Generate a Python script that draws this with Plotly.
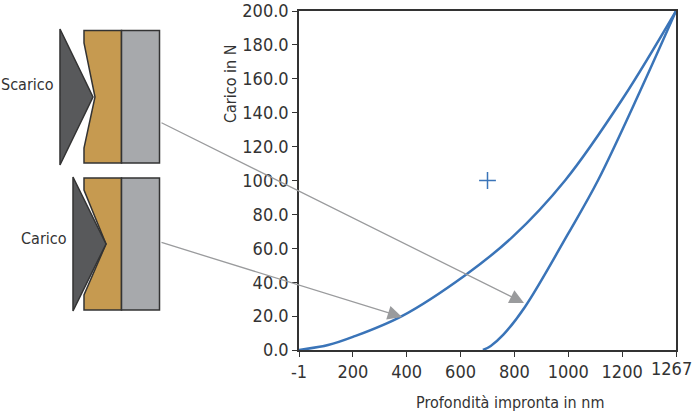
import plotly.graph_objects as go

# curve values (x is the position on the axis, the 1400 slot is labelled 1267)
load_x = [0, 108, 200, 382, 616, 795, 988, 1203, 1400]
load_y = [0, 2.9, 7.7, 20, 44, 67, 100, 148.5, 200]
unload_x = [683, 712, 758, 839, 999, 1110, 1266, 1400]
unload_y = [0, 2.4, 8.9, 25.4, 68.5, 100, 152.5, 200]
marker_x = [700]
marker_y = [100]

x_ticks = [0, 200, 400, 600, 800, 1000, 1200, 1400]
x_labels = ["-1", "200", "400", "600", "800", "1000", "1200", ""]  # last one is placed by hand, see below
y_ticks = [0, 20, 40, 60, 80, 100, 120, 140, 160, 180, 200]
y_labels = [f"{v:.1f}" for v in y_ticks]

BLUE = "#3a74b8"
DARK = "#333333"
FONT = "DejaVu Sans Condensed, Liberation Sans"
W, H = 696, 413
L, R, T, B = 299, 676, 11, 350


def px(x):
    return (x - L) / (R - L)


def py(y):
    return (B - y) / (B - T)


def poly(points, fill, line=DARK, width=1.5):
    path = "M " + " L ".join(f"{px(x):.4f},{py(y):.4f}" for x, y in points) + " Z"
    return dict(type="path", path=path, xref="paper", yref="paper", fillcolor=fill,
                line=dict(color=line, width=width), layer="above")


ORANGE = "#c69a50"
GREY = "#a7a9ac"
TIP = "#58595b"
shapes = [
    poly([(60, 29), (93, 97), (60, 165)], TIP),
    poly([(84, 30.5), (121.5, 30.5), (121.5, 163), (84, 163), (84, 148), (95, 97), (84, 43)], ORANGE),
    poly([(121.5, 30.5), (159.5, 30.5), (159.5, 163), (121.5, 163)], GREY),
    poly([(84, 178), (121.5, 178), (121.5, 310), (84, 310), (84, 295), (106, 244), (84, 190)], ORANGE),
    poly([(121.5, 178), (159.5, 178), (159.5, 310), (121.5, 310)], GREY),
    poly([(73, 177), (106, 244), (73, 311)], TIP),
]


def arrow(x0, y0, x1, y1):
    return dict(x=px(x1), y=py(y1), xref="paper", yref="paper", ax=x0 - x1, ay=y0 - y1,
                axref="pixel", ayref="pixel", text="", showarrow=True, arrowhead=2, arrowsize=2.2,
                arrowwidth=1.3, arrowcolor="#9a9b9d")


def label(x, y, text, size=16, anchor="center", angle=0):
    return dict(x=px(x), y=py(y), xref="paper", yref="paper", text=text, showarrow=False,
                xanchor=anchor, yanchor="middle", textangle=angle,
                font=dict(family=FONT, size=size, color=DARK))


annotations = [
    arrow(160, 122, 524, 303),
    arrow(160, 242, 402, 317),
    label(56, 85, "Scarico", anchor="right"),
    label(69, 239, "Carico", anchor="right"),
    label(230, 84, "Carico in N", angle=-90),
    label(510, 402, "Profondità impronta in nm"),
    label(671, 368, "1267", size=18),
]

fig = go.Figure()
fig.add_trace(go.Scatter(x=load_x, y=load_y, mode="lines", line=dict(color=BLUE, width=2.5, shape="spline")))
fig.add_trace(go.Scatter(x=unload_x, y=unload_y, mode="lines", line=dict(color=BLUE, width=2.5, shape="spline")))
fig.add_trace(go.Scatter(x=marker_x, y=marker_y, mode="markers",
                         marker=dict(symbol="cross-thin", size=12, line=dict(color=BLUE, width=1.5))))

axis_style = dict(showgrid=False, zeroline=False, showline=True, linecolor=DARK, linewidth=1.5, mirror=True,
                  ticks="outside", ticklen=5, tickwidth=1.2, tickcolor=DARK, automargin=False,
                  ticklabeloverflow="allow",
                  tickfont=dict(family=FONT, size=18, color=DARK))
fig.update_xaxes(range=[0, 1400], tickvals=x_ticks, ticktext=x_labels, **axis_style)
fig.update_yaxes(range=[0, 200], tickvals=y_ticks, ticktext=y_labels, **axis_style)
fig.update_layout(width=W, height=H, margin=dict(l=L, r=W - R, t=T, b=H - B), autosize=False,
                  showlegend=False, plot_bgcolor="white", paper_bgcolor="white",
                  shapes=shapes, annotations=annotations)
# the page has a default body margin that would push the figure out of the window
fig.write_html("out.html", config={"displayModeBar": False}, post_script="document.body.style.margin = '0';")
